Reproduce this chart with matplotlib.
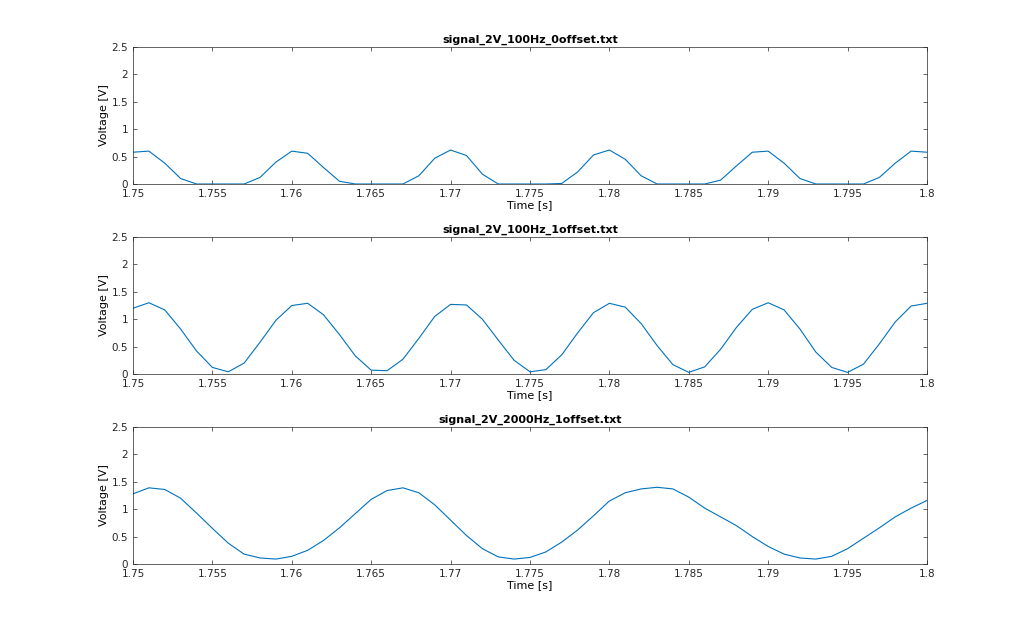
import numpy as np
import matplotlib
matplotlib.use("Agg")
import matplotlib.pyplot as plt

t = np.round(np.arange(1.750, 1.8005, 0.001), 3)
titles = ["signal_2V_100Hz_0offset.txt", "signal_2V_100Hz_1offset.txt", "signal_2V_2000Hz_1offset.txt"]
v1 = [0.58,0.60,0.38,0.10,0,0,0,0,0.12,0.40,
      0.60,0.56,0.30,0.05,0,0,0,0,0.15,0.47,
      0.62,0.52,0.18,0,0,0,0,0.01,0.22,0.53,
      0.62,0.45,0.15,0,0,0,0,0.07,0.33,0.58,
      0.60,0.38,0.10,0,0,0,0,0.12,0.38,0.60,0.58]
v2 = [1.20,1.30,1.17,0.82,0.42,0.12,0.04,0.20,0.58,0.98,
      1.25,1.29,1.08,0.72,0.33,0.07,0.06,0.27,0.65,1.05,
      1.27,1.26,1.00,0.62,0.25,0.04,0.08,0.35,0.75,1.12,
      1.29,1.22,0.92,0.52,0.17,0.03,0.13,0.45,0.85,1.18,
      1.30,1.17,0.82,0.40,0.12,0.03,0.18,0.55,0.95,1.24,1.29]
v3 = [1.28,1.39,1.36,1.20,0.93,0.65,0.38,0.18,0.11,0.09,
      0.14,0.25,0.43,0.66,0.92,1.18,1.34,1.39,1.30,1.08,
      0.80,0.52,0.28,0.13,0.09,0.12,0.22,0.40,0.62,0.88,
      1.15,1.30,1.37,1.40,1.37,1.22,1.02,0.86,0.70,0.50,
      0.32,0.18,0.11,0.09,0.14,0.28,0.47,0.66,0.86,1.02,1.16]
series = [v1, v2, v3]

fig = plt.figure(figsize=(10.24, 6.33), dpi=100)
tops = [47, 237, 427]
for i, (title, v) in enumerate(zip(titles, series)):
    top = tops[i]; bottom = top + 137
    ax = fig.add_axes([133/1024, 1 - bottom/633, (927-133)/1024, 137/633])
    ax.plot(t, v, color="#0072BD", lw=0.8)
    ax.set_xlim(1.75, 1.8)
    ax.set_ylim(0, 2.5)
    ax.set_xticks(np.arange(1.75, 1.8001, 0.005))
    ax.set_xticklabels(["1.75","1.755","1.76","1.765","1.77","1.775","1.78","1.785","1.79","1.795","1.8"])
    ax.set_yticks([0,0.5,1,1.5,2,2.5])
    ax.set_yticklabels(["0","0.5","1","1.5","2","2.5"])
    ax.tick_params(direction="in", top=True, right=True, labelsize=7.5, colors="#262626", length=3, width=0.5)
    for s in ax.spines.values():
        s.set_color("#262626"); s.set_linewidth(0.5)
    ax.set_title(title, fontsize=8, fontweight="bold", pad=3)
    ax.set_xlabel("Time [s]", fontsize=8, labelpad=1)
    ax.set_ylabel("Voltage [V]", fontsize=8, labelpad=2)
fig.savefig("out.png", dpi=100)
